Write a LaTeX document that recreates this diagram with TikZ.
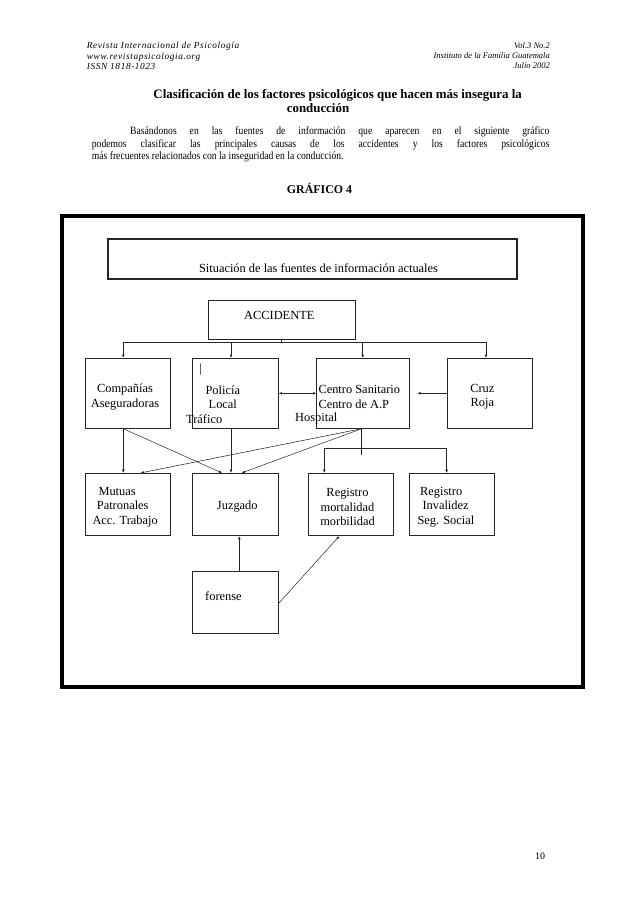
\documentclass[tikz,border=0pt]{standalone}
\usepackage{fontspec}
\setmainfont{Liberation Serif}
\newfontfamily\parafam[FakeStretch=0.86]{Liberation Serif}
\newfontfamily\headfam[LetterSpace=6.5]{Liberation Serif}
\usetikzlibrary{arrows.meta,positioning,calc}

\newcommand{\boxfont}{\fontsize{12.4}{14.3}\selectfont}
\newcommand{\bodyfont}{\parafam\fontsize{11.2}{12.5}\selectfont}
\newcommand{\headlfont}{\headfam\fontsize{9.3}{10.4}\selectfont\itshape}
\newcommand{\headrfont}{\fontsize{8.5}{10.4}\selectfont\itshape}

\begin{document}
\begin{tikzpicture}[x=1pt,y=-1pt,
    box/.style={draw=black!85,line width=0.8pt,inner sep=0pt},
    txt/.style={font=\boxfont,align=center,inner sep=0pt},
    arr/.style={-{Latex[length=3.2pt,width=2.6pt]},line width=0.5pt,black!85},
    arrtwo/.style={{Latex[length=3.2pt,width=2.6pt]}-{Latex[length=3.2pt,width=2.6pt]},line width=0.5pt,black!85},
    conn/.style={line width=0.5pt,black!85}
  ]
    \useasboundingbox (0,0) rectangle (638,903);

    % Page header
    \node[font=\headlfont,align=left,anchor=north west,inner sep=0pt] (headl) at (86.7,42) {Revista Internacional de Psicología\\www.revistapsicologia.org\\ISSN 1818-1023};
    \node[font=\headrfont,align=right,anchor=north east,inner sep=0pt] (headr) at (550,42) {Vol.3 No.2\\Instituto de la Familia Guatemala\\Julio 2002};

    % Title and paragraph
    \node[font=\fontsize{12.9}{13.3}\selectfont\bfseries,inner sep=0pt] (tita) at (337.7,95) {Clasificación de los factores psicológicos que hacen más insegura la};
    \node[font=\fontsize{12.9}{13.3}\selectfont\bfseries,inner sep=0pt] (titb) at (318,108.3) {conducción};
    \node[font=\bodyfont,text width=457.6pt,align=justify,anchor=north west,inner sep=0pt] (para) at (91.7,126.5) {\hspace*{38.3pt}Basándonos en las fuentes de información que aparecen en el siguiente gráfico\linebreak podemos clasificar las principales causas de los accidentes y los factores psicológicos\linebreak más frecuentes relacionados con la inseguridad en la conducción.};
    \node[font=\fontsize{11.9}{13.3}\selectfont\bfseries,inner sep=0pt] (graf) at (319.5,188.3) {GRÁFICO 4};

    % Outer frame
    \draw[line width=4.3pt] (62,216) rectangle (583,687);

    % Heading boxes
    \node[box,line width=1.8pt,minimum width=409pt,minimum height=39.7pt] (sit) at (312.2,259.2) {};
    \node[txt] (sitt) at (318.5,268) {Situación de las fuentes de información actuales};
    \node[box,minimum width=147pt,minimum height=38.3pt] (acc) at (281.5,319.9) {};
    \node[txt] (acct) at (279.3,315) {ACCIDENTE};

    % First row
    \node[box,minimum width=85pt,minimum height=70pt] (comp) at (127.5,393.3) {};
    \node[box,minimum width=85.6pt,minimum height=70pt] (pol) at (235.5,393.3) {};
    \node[box,minimum width=92.6pt,minimum height=70pt] (cen) at (363,393.3) {};
    \node[box,minimum width=85.4pt,minimum height=70pt] (cruz) at (490,393.3) {};
    \node[txt] (compt) at (125,397) {Compañías\\Aseguradoras};
    \node[txt] (polt) at (222.8,397) {Policía\\Local};
    \node[txt] (mark) at (200.7,370) {|};
    \node[txt,anchor=west] (traf) at (186,419) {Tráfico};
    \node[txt,anchor=west] (hosp) at (295,419) {Hospital};
    \node[txt,align=left,anchor=west] (cent) at (318.3,397) {Centro Sanitario\\Centro de A.P};
    \node[txt] (cruzt) at (482.3,397) {Cruz\\Roja};

    % Second row
    \node[box,minimum width=85pt,minimum height=62.4pt] (mut) at (127.5,504.5) {};
    \node[box,minimum width=85.6pt,minimum height=62.4pt] (juz) at (235.5,504.5) {};
    \node[box,minimum width=85pt,minimum height=62.4pt] (rmort) at (350.8,504.5) {};
    \node[box,minimum width=85.3pt,minimum height=62.4pt] (rinv) at (451.7,504.5) {};
    \node[txt,align=left,anchor=west] (mutt) at (92.3,507) {\hspace*{6pt}Mutuas\\\hspace*{4.4pt}Patronales\\Acc. Trabajo};
    \node[txt] (juzt) at (237.3,507) {Juzgado};
    \node[txt] (rmortt) at (347.5,507) {Registro\\mortalidad\\morbilidad};
    \node[txt,align=left,anchor=west] (rinvt) at (417.3,507) {\hspace*{2.7pt}Registro\\\hspace*{5pt}Invalidez\\Seg. Social};

    % Forense
    \node[box,minimum width=85.6pt,minimum height=61.6pt] (for) at (235.5,602.5) {};
    \node[txt,anchor=west] (fort) at (205,596) {forense};

    % Distribution from ACCIDENTE
    \coordinate (busL) at (123.3,342.3);
    \coordinate (busP) at (231,342.3);
    \coordinate (busC) at (362.7,342.3);
    \coordinate (busR) at (486,342.3);
    \draw[conn] (busL) -- (busR);
    \draw[conn] (acc.south) -- (acc.south |- busL);
    \draw[arr] (busL) -- (busL |- comp.north);
    \draw[arr] (busP) -- (busP |- pol.north);
    \draw[arr] (busC) -- (busC |- cen.north);
    \draw[arr] (busR) -- (busR |- cruz.north);

    % Links in the first row
    \draw[arrtwo] (pol.east) -- (cen.west);
    \coordinate (cruzend) at (417.3,393.3);
    \draw[arr] (cruz.west) -- (cruzend);

    % Links down to the second row
    \draw[arr] ([xshift=-4.2pt]comp.south) -- ([xshift=-4.2pt]mut.north);
    \draw[arr] ([xshift=-4.2pt]comp.south) -- ([xshift=-13.5pt]juz.north);
    \draw[arr] ([xshift=-4.5pt]pol.south) -- ([xshift=-4.5pt]juz.north);
    \draw[arr] ([xshift=-1.3pt]cen.south) -- ([xshift=13.2pt]mut.north);
    \draw[arr] ([xshift=-1.3pt]cen.south) -- ([xshift=6.2pt]juz.north);
    \draw[conn] ([xshift=-1.3pt]cen.south) -- ++(0,26);
    \coordinate (barL) at (324.3,448.3);
    \coordinate (barR) at (446.7,448.3);
    \draw[conn] (barL) -- (barR);
    \draw[arr] (barL) -- (barL |- rmort.north);
    \draw[arr] (barR) -- (barR |- rinv.north);

    % Links from forense
    \draw[arr] ([xshift=3.8pt]for.north) -- ([xshift=3.8pt]juz.south);
    \draw[arr] ([yshift=-0.8pt]for.east) -- ([xshift=-11.5pt]rmort.south);

    % Page number
    \node[font=\fontsize{10}{12}\selectfont,inner sep=0pt] (pnum) at (540,856.7) {10};
\end{tikzpicture}
\end{document}
